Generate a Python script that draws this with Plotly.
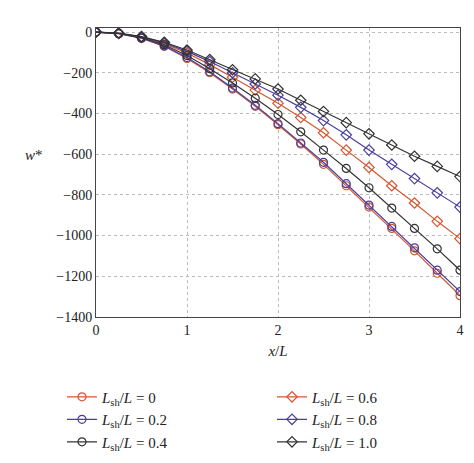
import plotly.graph_objects as go

x = [0, 0.25, 0.5, 0.75, 1, 1.25, 1.5, 1.75, 2, 2.25, 2.5, 2.75, 3, 3.25, 3.5, 3.75, 4]
w_00 = [0, -8, -30, -70, -130, -200, -280, -365, -455, -550, -650, -755, -860, -965, -1075, -1185, -1295]
w_02 = [0, -8, -30, -68, -125, -195, -275, -360, -450, -545, -640, -745, -850, -955, -1060, -1170, -1275]
w_04 = [0, -7, -28, -62, -115, -180, -250, -325, -405, -490, -580, -670, -765, -865, -965, -1065, -1170]
w_06 = [0, -6, -26, -57, -103, -160, -222, -285, -350, -420, -495, -580, -665, -755, -840, -930, -1015]
w_08 = [0, -6, -24, -53, -95, -145, -200, -255, -310, -370, -435, -505, -580, -650, -720, -790, -860]
w_10 = [0, -5, -22, -50, -88, -135, -185, -230, -280, -335, -390, -445, -500, -555, -610, -660, -710]
labels = ["0", "0.2", "0.4", "0.6", "0.8", "1.0"]

RED, BLUE, BLK = "#d4562e", "#4b3f9e", "#333333"
series = [(w_00, RED, "circle-open"), (w_02, BLUE, "circle-open"), (w_04, BLK, "circle-open"),
          (w_06, RED, "diamond-open"), (w_08, BLUE, "diamond-open"), (w_10, BLK, "diamond-open")]
order = [0, 3, 1, 4, 2, 5]

fig = go.Figure()
for i in order:
    y, c, s = series[i]
    fig.add_trace(go.Scatter(x=x, y=y, mode="lines+markers",
        line=dict(color=c, width=1.2),
        marker=dict(symbol=s, size=8, color=c, line=dict(width=1.2, color=c)),
        name="<i>L</i><sub>sh</sub>/<i>L</i> = " + labels[i]))

ax = dict(showline=True, linecolor="#444", linewidth=1, mirror=True, ticks="",
          gridcolor="#bbbbbb", griddash="dot", zeroline=False, tickfont=dict(size=14))
fig.update_layout(
    width=474, height=463, margin=dict(l=88, r=22, t=20, b=150),
    plot_bgcolor="white", paper_bgcolor="white",
    font=dict(family="Liberation Serif", color="#222"),
    xaxis=dict(ax, range=[0, 4], dtick=1, title=dict(text="<i>x</i>/<i>L</i>", font=dict(size=15), standoff=8)),
    yaxis=dict(ax, range=[-1400, 20], tickvals=[0, -200, -400, -600, -800, -1000, -1200, -1400],
               ticktext=["0", "−200", "−400", "−600", "−800", "−1000", "−1200", "−1400"]),
    legend=dict(orientation="h", x=-0.02, y=-0.22, yanchor="top", entrywidth=165,
                font=dict(size=15), tracegroupgap=0, itemwidth=30),
    annotations=[dict(text="<i>w</i>*", xref="paper", yref="paper", x=-0.2, y=0.56,
                      showarrow=False, font=dict(size=15))],
)
fig.write_html("out.html")
